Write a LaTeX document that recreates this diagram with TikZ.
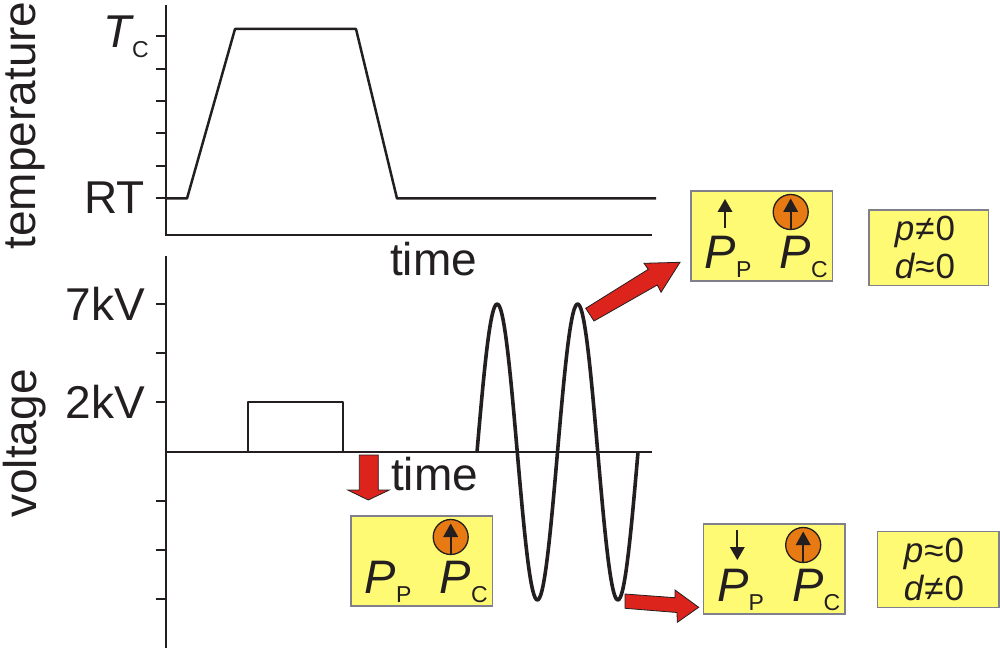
\documentclass[tikz,border=0pt]{standalone}
\usepackage{fontspec}
\setmainfont{Liberation Sans}
\definecolor{ink}{HTML}{231F20}
\definecolor{boxyellow}{HTML}{FFFA73}
\definecolor{boxedge}{HTML}{80808C}
\definecolor{orangefill}{HTML}{E87A14}
\definecolor{redfill}{HTML}{DC241C}
\newcommand{\fs}[1]{\fontsize{#1}{#1}\selectfont}
\tikzset{
  axisline/.style={draw=ink,line width=2.4pt},
  tickline/.style={draw=ink,line width=2pt},
  traceline/.style={draw=ink,line width=2.5pt,line join=round},
  waveline/.style={draw=ink,line width=3.6pt,line join=round},
  biglabel/.style={inner sep=0pt,text=ink,font=\fs{46}},
  bigp/.style={inner sep=0pt,text=ink,anchor=base west,font=\fs{47}\itshape},
  subp/.style={inner sep=0pt,text=ink,anchor=base west,font=\fs{23}},
  yellowbox/.style={draw=boxedge,fill=boxyellow,line width=1.5pt},
  infotext/.style={inner sep=0pt,text=ink,align=center,font=\fs{35}},
  redarrow/.style={draw=ink,fill=redfill,line width=.8pt,line join=miter},
  spin/.style={draw=ink,fill=orangefill,line width=1.3pt},
  headfill/.style={fill=ink,draw=none},
  shaftline/.style={draw=ink,line width=2pt},
}
% name, left, top: yellow box with the two P labels and the orange circle
\newcommand{\polbox}[3]{%
  \draw[yellowbox] (#2,#3) rectangle ++(141.5,90);
  \node[bigp] (#1pp) at (#2+13.5,#3+77) {P};
  \node[subp] (#1sp) at (#2+45,#3+86) {P};
  \node[bigp] (#1pc) at (#2+88.5,#3+77) {P};
  \node[subp] (#1sc) at (#2+120,#3+86) {C};
  \node[spin,circle,minimum size=35pt,inner sep=0pt] (#1c) at (#2+99.7,#3+21) {};
  \draw[shaftline] (#2+99.7,#3+38) -- (#2+99.7,#3+18);
  \fill[headfill] (#2+99.7,#3+7.5) -- (#2+107.2,#3+21) -- (#2+92.2,#3+21) -- cycle;
}
\newcommand{\neqsign}{\kern1pt≠\kern1pt}
\newcommand{\apxsign}{\kern1pt≈\kern1pt}
\begin{document}
\begin{tikzpicture}[x=1pt,y=-1pt]
\useasboundingbox (0,0) rectangle (1000,652);
% upper chart
\draw[axisline] (166,5) -- (166,235) -- (652,235);
\foreach \yy in {36.5,69,101,133.5,166,198.5} \draw[tickline] (156,\yy) -- (166,\yy);
\draw[traceline] (166,198.5) -- (187,198.5) -- (235,29) -- (356,29) -- (397,198.5) -- (656,198.5);
\node[biglabel,anchor=base,rotate=90] (templabel) at (35,125.5) {temperature};
\node[biglabel,anchor=base west] (timeup) at (390,275.5) {time};
\node[biglabel,anchor=base west,font=\fs{46}\itshape] (tlabel) at (103.5,48) {T};
\node[subp,font=\fs{23}] (tsub) at (131.8,58) {C};
\node[biglabel,anchor=base east] (rtlabel) at (145,214) {RT};
% lower chart
\draw[axisline] (166,256) -- (166,648);
\draw[axisline] (166,452) -- (652,452);
\foreach \yy in {304,353,402,500.5,549.5,599} \draw[tickline] (156,\yy) -- (166,\yy);
\draw[traceline] (248,452) -- (248,402) -- (343,402) -- (343,452);
\draw[waveline,domain=0:2,samples=120,smooth,variable=\t] plot ({477+80.5*\t},{452-148*sin(360*\t)});
\node[biglabel,anchor=base,rotate=90] (voltlabel) at (36,443.5) {voltage};
\node[biglabel,anchor=base east] (sevenkv) at (145,320) {7kV};
\node[biglabel,anchor=base east] (twokv) at (145,418) {2kV};
\node[biglabel,anchor=base west] (timelow) at (391,490) {time};
% boxes
\polbox{a}{691}{191}
\polbox{b}{351}{516}
\polbox{c}{703.5}{524}
% small P arrows
\coordinate (auptail) at (725,228);
\draw[shaftline] (auptail) -- (725,208);
\fill[headfill] (725,199) -- (732.5,212) -- (717.5,212) -- cycle;
\coordinate (cdowntail) at (737.3,530);
\draw[shaftline] (cdowntail) -- (737.3,550);
\fill[headfill] (737.3,560) -- (744.8,547) -- (729.8,547) -- cycle;
% info boxes
\draw[yellowbox] (869,210) rectangle (988.7,285.7);
\node[infotext] (infoa) at (925,247) {{\itshape p}\neqsign0\\[3pt]{\itshape d}\apxsign0};
\draw[yellowbox] (877.3,531.7) rectangle (999,607.3);
\node[infotext] (infob) at (934,569) {{\itshape p}\apxsign0\\[3pt]{\itshape d}\neqsign0};
% red arrows
\draw[redarrow] (585.7,308.3) -- (594,321) -- (657.3,285) -- (661,292.3) -- (680,262.3) -- (644,263.3) -- (648.3,269.3) -- cycle;
\draw[redarrow] (625,594) -- (625,608.3) -- (677,612.5) -- (677.3,622.3) -- (698.7,607.3) -- (675,590) -- (675,597.7) -- cycle;
\draw[redarrow] (359.3,455) -- (378.3,455) -- (378.3,490) -- (389.3,490) -- (368.3,500) -- (347.7,490) -- (359.3,490) -- cycle;
\end{tikzpicture}
\end{document}
